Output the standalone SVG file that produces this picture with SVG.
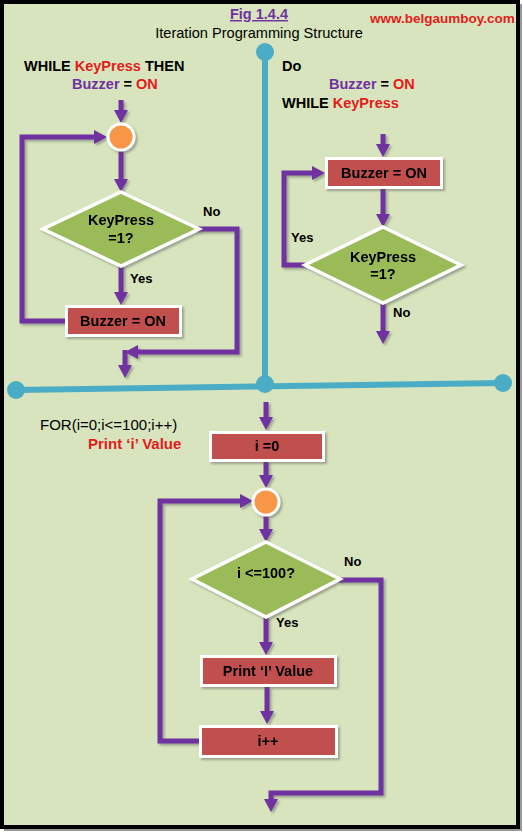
<svg xmlns="http://www.w3.org/2000/svg" width="523" height="832" viewBox="0 0 523 832">
<defs>
<style>
.t{font-family:"Liberation Sans",Arial,sans-serif;font-size:14.5px;font-weight:bold;fill:#000}
.s{font-size:13px}
.c{text-anchor:middle}
.red{fill:#e31b1b}
.pur{fill:#7030a0}
.blk{fill:#000}
.box{fill:#c0504d;stroke:#fff;stroke-width:3}
.dia{fill:#9bbb59;stroke:#fff;stroke-width:3.5}
.dot{fill:#f79646;stroke:#fff;stroke-width:3}
.ln{fill:none;stroke:#7030a0;stroke-width:5;stroke-linejoin:miter}
.tl{fill:none;stroke:#4bacc6;stroke-width:6}
.tc{fill:#4bacc6}
</style>
<marker id="arr" viewBox="0 0 13 14" refX="4" refY="7" markerWidth="13" markerHeight="14" markerUnits="userSpaceOnUse" orient="auto">
<path d="M0,0 L13,7 L0,14 z" fill="#7030a0"/>
</marker>
<filter id="sh" x="-20%" y="-20%" width="140%" height="140%">
<feDropShadow dx="2" dy="2" stdDeviation="1" flood-color="#555" flood-opacity="0.45"/>
</filter>
</defs>
<rect x="0" y="0" width="523" height="832" fill="#fff"/>
<rect x="4" y="4" width="518" height="827" fill="#999"/>
<rect x="2" y="2" width="516" height="825" fill="#d7e4bd" stroke="#000" stroke-width="4"/>

<g id="titles">
<text class="t c pur" x="259" y="19" text-decoration="underline">Fig 1.4.4</text>
<text x="259" y="38" text-anchor="middle" style="font-family:'Liberation Sans',Arial,sans-serif;font-size:14.6px;fill:#000">Iteration Programming Structure</text>
<text class="t red" x="370" y="23" style="font-size:13.5px">www.belgaumboy.com</text>
</g>

<g id="dividers">
<line class="tl" x1="265" y1="52" x2="265" y2="384"/>
<line class="tl" x1="16" y1="390" x2="503" y2="383"/>
<circle class="tc" cx="265" cy="52" r="9"/>
<circle class="tc" cx="16" cy="390" r="9"/>
<circle class="tc" cx="265" cy="384" r="9"/>
<circle class="tc" cx="503" cy="383" r="9"/>
</g>

<g id="labels">
<text class="t" x="24" y="71"><tspan class="blk">WHILE </tspan><tspan class="red">KeyPress</tspan><tspan class="blk"> THEN</tspan></text>
<text class="t" x="72" y="89"><tspan class="pur">Buzzer</tspan><tspan class="blk"> = </tspan><tspan class="red">ON</tspan></text>
<text class="t" x="282" y="71">Do</text>
<text class="t" x="329" y="89"><tspan class="pur">Buzzer</tspan><tspan class="blk"> = </tspan><tspan class="red">ON</tspan></text>
<text class="t" x="282" y="108"><tspan class="blk">WHILE </tspan><tspan class="red">KeyPress</tspan></text>
<text x="40" y="430" style="font-family:'Liberation Sans',Arial,sans-serif;font-size:15px;fill:#000">FOR(i=0;i&lt;=100;i++)</text>
<text class="t red" x="88" y="449" style="font-size:15px">Print ‘i’ Value</text>
</g>

<g id="connectors" filter="url(#sh)">
<polyline class="ln" points="121,100 121,114" marker-end="url(#arr)"/>
<polyline class="ln" points="121,151 121,183" marker-end="url(#arr)"/>
<polyline class="ln" points="121,266 121,296" marker-end="url(#arr)"/>
<polyline class="ln" points="65,321 22,321 22,137 98,137" marker-end="url(#arr)"/>
<polyline class="ln" points="195,229 237,229 237,352 134,352" marker-end="url(#arr)"/>
<polyline class="ln" points="125,350 125,369" marker-end="url(#arr)"/>

<polyline class="ln" points="383,134 383,148" marker-end="url(#arr)"/>
<polyline class="ln" points="383,189 383,218" marker-end="url(#arr)"/>
<polyline class="ln" points="305,265 284,265 284,173 316,173" marker-end="url(#arr)"/>
<polyline class="ln" points="383,303 383,335" marker-end="url(#arr)"/>

<polyline class="ln" points="266,402 266,421" marker-end="url(#arr)"/>
<polyline class="ln" points="266,461 266,479" marker-end="url(#arr)"/>
<polyline class="ln" points="266,516 266,533" marker-end="url(#arr)"/>
<polyline class="ln" points="266,617 266,646" marker-end="url(#arr)"/>
<polyline class="ln" points="267,687 267,715" marker-end="url(#arr)"/>
<polyline class="ln" points="200,741 160,741 160,501 244,501" marker-end="url(#arr)"/>
<polyline class="ln" points="338,580 381,580 381,793 271,793 271,803" marker-end="url(#arr)"/>
</g>

<g id="conn-labels">
<text class="t s" x="203" y="216">No</text>
<text class="t s" x="130" y="283">Yes</text>
<text class="t s" x="291" y="242">Yes</text>
<text class="t s" x="393" y="317">No</text>
<text class="t s" x="344" y="566">No</text>
<text class="t s" x="276" y="627">Yes</text>
</g>

<g id="n-start1" filter="url(#sh)">
<circle class="dot" cx="121" cy="137" r="13"/>
</g>
<g id="n-dec1" filter="url(#sh)">
<polygon class="dia" points="121,192 199,229 121,266 43,229"/>
<text class="t c" x="121" y="225">KeyPress</text>
<text class="t c" x="121" y="243">=1?</text>
</g>
<g id="n-buzz1" filter="url(#sh)">
<rect class="box" x="66.5" y="306.5" width="114" height="29"/>
<text class="t c" x="123" y="326">Buzzer = ON</text>
</g>

<g id="n-buzz2" filter="url(#sh)">
<rect class="box" x="326.5" y="158.5" width="115" height="29"/>
<text class="t c" x="384" y="178">Buzzer = ON</text>
</g>
<g id="n-dec2" filter="url(#sh)">
<polygon class="dia" points="383,227 461,265 383,303 305,265"/>
<text class="t c" x="383" y="262">KeyPress</text>
<text class="t c" x="383" y="279">=1?</text>
</g>

<g id="n-init" filter="url(#sh)">
<rect class="box" x="210.5" y="432.5" width="113" height="28"/>
<text class="t c" x="267" y="451">i =0</text>
</g>
<g id="n-start3" filter="url(#sh)">
<circle class="dot" cx="266" cy="502" r="13"/>
</g>
<g id="n-dec3" filter="url(#sh)">
<polygon class="dia" points="266,542 340,579 266,617 192,579"/>
<text class="t c" x="266" y="578">i &lt;=100?</text>
</g>
<g id="n-print" filter="url(#sh)">
<rect class="box" x="201.5" y="656.5" width="134" height="29"/>
<text class="t c" x="268" y="676">Print ‘I’ Value</text>
</g>
<g id="n-inc" filter="url(#sh)">
<rect class="box" x="200.5" y="726.5" width="136" height="30"/>
<text class="t c" x="268" y="746">i++</text>
</g>
</svg>
